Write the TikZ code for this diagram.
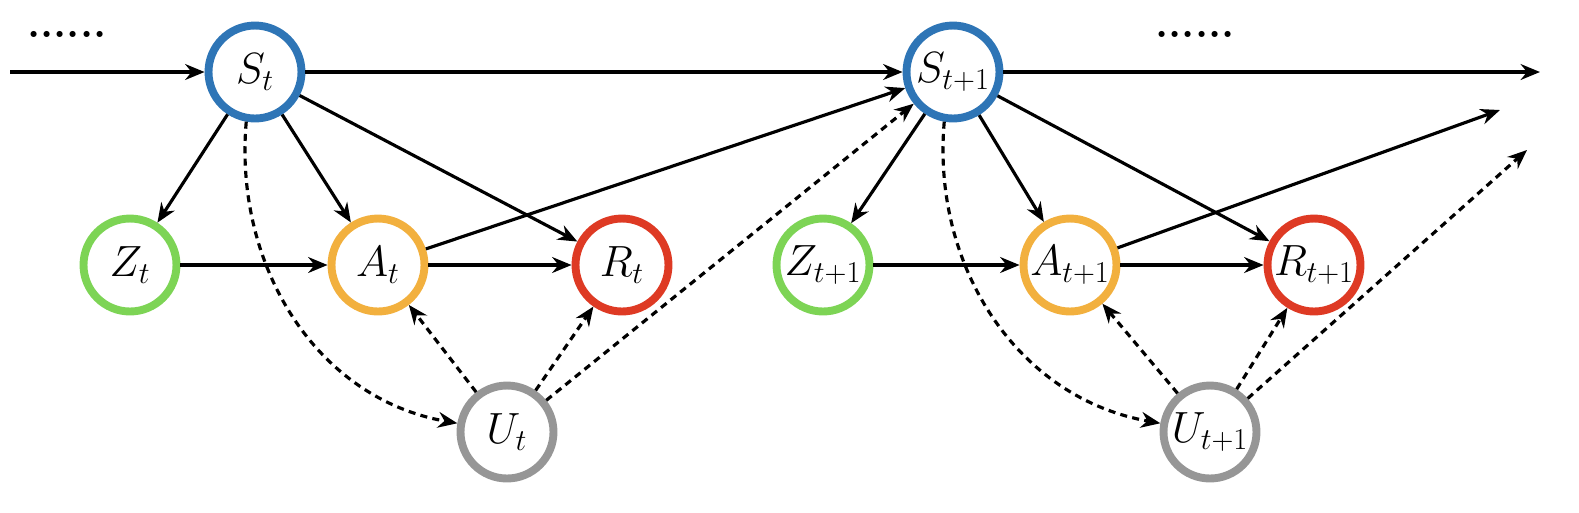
\documentclass[tikz,border=0pt]{standalone}
\usetikzlibrary{arrows.meta}
\definecolor{cS}{RGB}{46,117,182}
\definecolor{cZ}{RGB}{125,212,85}
\definecolor{cA}{RGB}{242,176,62}
\definecolor{cR}{RGB}{222,58,36}
\definecolor{cU}{RGB}{150,150,150}
\begin{document}
\begin{tikzpicture}[x=0.02cm,y=-0.02cm,
  v/.style={circle,draw,line width=4.5pt,minimum size=1.86cm,inner sep=0pt,fill=white,font=\fontsize{24}{28}\selectfont},
  e/.style={-{Stealth[length=11pt,width=9pt]},line width=1.8pt},
  d/.style={e,dash pattern=on 4pt off 3pt}]
\useasboundingbox (0,0) rectangle (1579,512);
\node[v,draw=cS] (S1) at (255,72) {$S_t$};
\node[v,draw=cZ] (Z1) at (130,265) {$Z_t$};
\node[v,draw=cA] (A1) at (378,265) {$A_t$};
\node[v,draw=cR] (R1) at (622,265) {$R_t$};
\node[v,draw=cU] (U1) at (507,432) {$U_t$};
\node[v,draw=cS] (S2) at (953,72) {$S_{t+1}$};
\node[v,draw=cZ] (Z2) at (823,265) {$Z_{t+1}$};
\node[v,draw=cA] (A2) at (1070,265) {$A_{t+1}$};
\node[v,draw=cR] (R2) at (1314,265) {$R_{t+1}$};
\node[v,draw=cU] (U2) at (1210,432) {$U_{t+1}$};
\node[font=\fontsize{24}{28}\selectfont\bfseries] (dots1) at (67,34) {......};
\node[font=\fontsize{24}{28}\selectfont\bfseries] (dots2) at (1195,34) {......};
\coordinate (in) at (10,72);
\coordinate (out) at (1540,72);
\coordinate (fa) at (1500,110);
\coordinate (fu) at (1527,150);
\draw[e] (in) -- (S1);
\draw[e] (S1) -- (S2);
\draw[e] (S2) -- (out);
\foreach \i in {1,2}{
  \draw[e] (S\i) -- (Z\i);
  \draw[e] (S\i) -- (A\i);
  \draw[e] (S\i) -- (R\i);
  \draw[e] (Z\i) -- (A\i);
  \draw[e] (A\i) -- (R\i);
  \draw[d] (S\i.-100) to[out=-95,in=170] (U\i.170);
  \draw[d] (U\i) -- (A\i);
  \draw[d] (U\i) -- (R\i);
}
\draw[e] (A1) -- (S2);
\draw[d] (U1) -- (S2);
\draw[e] (A2) -- (fa);
\draw[d] (U2) -- (fu);
\end{tikzpicture}
\end{document}
